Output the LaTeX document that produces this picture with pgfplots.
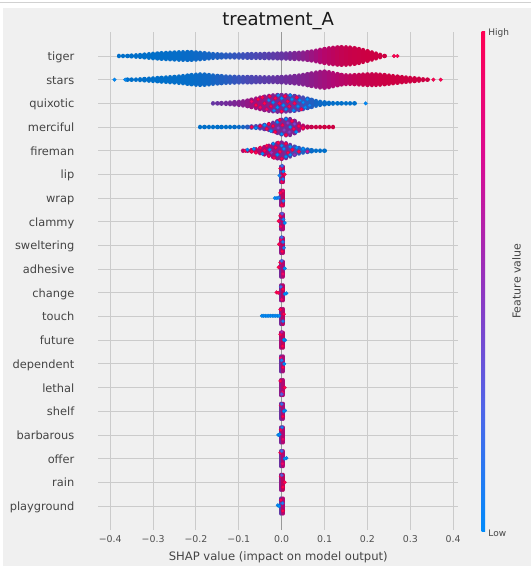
\documentclass[border=0pt]{standalone}
\usepackage{pgfplots}
\pgfplotsset{compat=1.18}
\usepackage{pgfplotstable}
\usepackage{fontspec}
\setmainfont{DejaVu Sans}
\definecolor{bgc}{HTML}{F0F0F0}
\definecolor{gridc}{HTML}{CBCBCB}
\definecolor{zeroc}{HTML}{999999}
\definecolor{labc}{HTML}{444444}
\definecolor{tickc}{HTML}{505050}
\pgfplotsset{colormap={shap}{rgb255(0cm)=(0,139,251) rgb255(1cm)=(80,100,232) rgb255(2cm)=(148,50,190) rgb255(3cm)=(220,10,145) rgb255(4cm)=(255,0,82)}}

\pgfplotstableread{
x h c
-0.38 1.6 0
-0.37 2.0 0
-0.36 2.3 0
-0.35 2.6 0
-0.34 2.9 0
-0.33 3.2 0
-0.32 3.6 0
-0.31 4.0 0
-0.30 4.4 0
-0.29 4.7 0.01
-0.28 5.0 0.01
-0.27 5.3 0.01
-0.26 5.5 0.02
-0.25 5.7 0.02
-0.24 5.9 0.02
-0.23 6.0 0.03
-0.22 6.1 0.03
-0.21 6.0 0.04
-0.20 5.8 0.05
-0.19 5.4 0.06
-0.18 5.0 0.07
-0.17 4.6 0.08
-0.16 4.2 0.10
-0.15 3.9 0.12
-0.14 3.7 0.14
-0.13 3.6 0.16
-0.12 3.6 0.18
-0.11 3.7 0.20
-0.10 3.8 0.22
-0.09 3.9 0.24
-0.08 4.0 0.26
-0.07 4.1 0.28
-0.06 4.2 0.30
-0.05 4.2 0.32
-0.04 4.3 0.34
-0.03 4.4 0.36
-0.02 4.5 0.38
-0.01 4.6 0.40
0.00 4.7 0.42
0.01 4.8 0.45
0.02 5.0 0.48
0.03 5.2 0.52
0.04 5.4 0.55
0.05 5.7 0.58
0.06 6.1 0.62
0.07 6.7 0.66
0.08 7.5 0.70
0.09 8.4 0.75
0.10 9.2 0.80
0.11 9.9 0.83
0.12 10.4 0.86
0.13 10.8 0.89
0.14 11.0 0.92
0.15 10.9 0.94
0.16 10.6 0.96
0.17 10.0 0.97
0.18 9.2 0.98
0.19 8.2 0.99
0.20 7.0 1
0.21 5.8 1
0.22 4.6 1
0.23 3.4 1
0.24 2.2 1
}\tigerdata

\pgfplotstableread{
x h c
-0.36 1.6 0
-0.35 2.0 0
-0.34 2.3 0
-0.33 2.6 0
-0.32 2.9 0
-0.31 3.2 0
-0.30 3.5 0
-0.29 3.8 0
-0.28 4.1 0
-0.27 4.4 0
-0.26 4.7 0.01
-0.25 5.0 0.01
-0.24 5.4 0.01
-0.23 5.8 0.02
-0.22 6.3 0.02
-0.21 6.8 0.02
-0.20 7.2 0.03
-0.19 7.5 0.04
-0.18 7.3 0.05
-0.17 6.9 0.06
-0.16 6.4 0.08
-0.15 6.0 0.10
-0.14 5.7 0.12
-0.13 5.4 0.14
-0.12 5.2 0.17
-0.11 5.1 0.20
-0.10 5.0 0.23
-0.09 4.9 0.26
-0.08 4.9 0.29
-0.07 4.9 0.31
-0.06 4.8 0.33
-0.05 4.7 0.35
-0.04 4.6 0.37
-0.03 4.6 0.39
-0.02 4.6 0.41
-0.01 4.7 0.43
0.00 4.9 0.45
0.01 5.2 0.47
0.02 5.5 0.49
0.03 5.9 0.51
0.04 6.4 0.53
0.05 7.0 0.55
0.06 7.7 0.57
0.07 8.5 0.60
0.08 9.3 0.63
0.09 10.0 0.66
0.10 10.3 0.69
0.11 9.7 0.72
0.12 8.8 0.75
0.13 7.8 0.78
0.14 7.0 0.81
0.15 6.6 0.84
0.16 6.5 0.87
0.17 6.7 0.90
0.18 7.0 0.92
0.19 7.3 0.94
0.20 7.5 0.95
0.21 7.6 0.96
0.22 7.5 0.97
0.23 7.2 0.98
0.24 6.8 0.99
0.25 6.3 1
0.26 5.8 1
0.27 5.3 1
0.28 4.8 1
0.29 4.4 1
0.30 4.0 1
0.31 3.6 1
0.32 3.2 1
0.33 2.6 1
0.34 2.0 1
}\starsdata

\pgfplotstableread{
x h c
-0.16 1.8 0.42
-0.15 2.2 0.44
-0.14 2.5 0.46
-0.13 2.8 0.48
-0.12 3.1 0.50
-0.11 3.4 0.52
-0.10 3.8 0.55
-0.09 4.3 0.58
-0.08 5.0 0.62
-0.07 5.9 0.66
-0.06 7.0 0.68
-0.05 8.0 0.66
-0.04 8.9 0.62
-0.03 9.7 0.58
-0.02 10.2 0.55
-0.01 10.5 0.52
0.00 10.5 0.50
0.01 10.4 0.47
0.02 10.1 0.44
0.03 9.6 0.40
0.04 8.9 0.35
0.05 8.0 0.28
0.06 6.9 0.20
0.07 5.8 0.13
0.08 4.6 0.08
0.09 3.8 0.05
0.10 3.2 0.03
0.11 2.8 0.02
0.12 2.5 0.01
0.13 2.3 0
0.14 2.1 0
0.15 1.9 0
0.16 1.7 0
0.17 1.6 0
}\quixoticdata

\pgfplotstableread{
x h c
-0.19 1.6 0
-0.18 1.6 0
-0.17 1.7 0
-0.16 1.7 0
-0.15 1.8 0
-0.14 1.8 0
-0.13 1.9 0
-0.12 1.9 0
-0.11 2.0 0.02
-0.10 2.1 0.04
-0.09 2.3 0.08
-0.08 2.5 0.15
-0.07 2.8 0.25
-0.06 3.1 0.32
-0.05 3.6 0.38
-0.04 4.3 0.42
-0.03 5.2 0.46
-0.02 6.4 0.48
-0.01 8.0 0.50
0.00 9.5 0.50
0.01 10.5 0.50
0.02 10.2 0.52
0.03 8.4 0.56
0.04 5.8 0.66
0.05 3.6 0.80
0.06 2.6 0.90
0.07 2.2 0.95
0.08 2.0 0.98
0.09 1.9 1
0.10 1.8 1
0.11 1.7 1
0.12 1.6 1
}\mercifuldata

\pgfplotstableread{
x h c
-0.09 1.6 0.80
-0.08 2.2 0.85
-0.07 2.8 0.85
-0.06 3.6 0.82
-0.05 4.7 0.78
-0.04 5.9 0.74
-0.03 7.2 0.70
-0.02 8.6 0.66
-0.01 9.8 0.60
0.00 10.4 0.55
0.01 9.6 0.48
0.02 8.0 0.40
0.03 6.3 0.30
0.04 5.0 0.20
0.05 4.1 0.12
0.06 3.4 0.07
0.07 2.8 0.03
0.08 2.3 0.01
0.09 1.9 0
0.10 1.6 0
}\firemandata

\pgfplotstableread{
x y h c
-0.002 14 9.8 0.35
0.003 14 9.8 0.80
-0.002 13 9.5 0.55
0.003 13 9.5 0.85
-0.002 12 9.6 0.50
0.003 12 9.6 0.75
-0.002 11 9.6 0.60
0.003 11 9.6 0.80
-0.002 10 9.6 0.50
0.003 10 9.6 0.75
-0.002 9 9.6 0.55
0.003 9 9.6 0.80
-0.002 8 9.6 0.50
0.003 8 9.6 0.80
-0.002 7 9.6 0.70
0.003 7 9.6 0.85
-0.002 6 9.6 0.45
0.003 6 9.6 0.70
-0.002 5 9.6 0.60
0.003 5 9.6 0.75
-0.002 4 9.6 0.45
0.003 4 9.6 0.70
-0.002 3 9.6 0.50
0.003 3 9.6 0.75
-0.002 2 9.6 0.45
0.003 2 9.6 0.75
-0.002 1 9.6 0.60
0.003 1 9.6 0.85
-0.002 0 9.6 0.40
0.003 0 9.6 0.75
}\smalldata

\pgfplotstableread{
x y c
0.262 19 1
0.270 19 1
-0.390 18 0
-0.365 18 0
0.354 18 1
0.371 18 1
0.196 17 0
-0.070 17.08 0.9
-0.060 16.92 1
-0.055 17.17 1
-0.050 16.83 0.95
-0.045 17.25 1
-0.040 17.00 1
-0.035 16.75 0.9
-0.030 17.13 0.05
-0.028 17.30 1
-0.025 16.87 1
-0.020 17.04 0
-0.018 16.70 0.05
-0.015 17.21 1
-0.010 16.83 0
-0.008 17.34 0.05
-0.005 17.00 1
0.000 16.66 1
0.000 17.21 0
0.004 16.92 0
0.008 17.30 1
0.010 16.75 0
0.014 17.08 1
0.018 16.87 1
0.020 17.34 0
0.024 17.17 0
0.028 16.70 0
0.030 17.00 1
0.035 17.25 1
0.038 16.87 0
0.042 17.13 0
0.046 16.75 1
0.050 17.04 0
0.055 16.83 0
0.060 17.17 0
0.065 16.92 0.05
-0.070 16.00 1
-0.060 15.96 0
-0.050 16.04 1
-0.040 16.08 0
-0.035 15.92 1
-0.030 16.13 1
-0.025 15.83 0
-0.020 16.04 1
-0.015 15.79 1
-0.010 16.21 0
-0.008 15.96 0.45
-0.005 16.30 1
0.000 15.70 0
0.002 16.08 1
0.006 15.87 0.45
0.010 16.34 0
0.010 15.66 1
0.014 16.17 0.45
0.018 15.79 0.45
0.020 16.00 0
0.024 16.25 1
0.028 15.92 1
0.030 16.13 0.4
0.034 15.79 0
0.040 16.04 1
0.050 15.96 1
-0.085 15.00 1
-0.080 15.04 0
-0.070 14.96 1
-0.065 15.08 0.05
-0.060 14.92 1
-0.050 15.13 1
-0.045 14.87 0
-0.040 15.00 1
-0.035 15.21 1
-0.030 14.79 1
-0.028 15.04 0
-0.024 14.92 0.5
-0.020 15.30 0
-0.018 14.70 1
-0.014 15.13 1
-0.010 14.83 0
-0.008 15.34 1
-0.004 14.96 1
0.000 15.21 0
0.000 14.66 1
0.005 15.08 0
0.010 14.75 0
0.010 15.30 1
0.015 14.92 1
0.020 15.17 0
0.020 14.83 0
0.025 15.04 1
0.030 14.83 0.5
0.035 15.13 0
0.040 14.96 1
0.050 15.08 0
0.060 14.96 0.7
-0.003 14.25 1
0.004 14.12 0
-0.002 13.95 0.9
0.003 13.80 0.1
0.000 13.68 0.95
0.001 14.36 0.2
0.007 14.00 1
-0.005 13.95 0.05
-0.003 13.22 1
0.003 13.30 0.9
0.004 12.88 0.1
0.000 12.70 1
-0.016 13.00 0
-0.011 13.00 0
-0.007 13.02 0.1
-0.003 12.25 1
0.004 12.10 0.1
-0.002 11.80 0.95
0.001 12.34 0.3
-0.007 12.03 1
0.007 11.95 0
-0.002 11.25 0.9
0.003 11.15 0.1
0.001 10.75 1
0.000 11.35 0.2
-0.006 11.05 1
0.005 10.90 0.1
-0.003 10.28 1
0.003 9.80 0.9
0.000 10.35 0.2
0.007 10.03 0
-0.007 10.08 1
-0.002 9.25 0.2
0.003 9.15 1
0.000 8.72 0.9
-0.012 9.02 1
-0.008 9.00 1
0.011 8.98 0
0.007 8.95 0
-0.003 8.30 1
0.003 7.80 0.1
0.005 8.10 1
-0.046 8.03 0
-0.042 8.03 0
-0.038 8.03 0
-0.034 8.03 0
-0.030 8.03 0
-0.026 8.03 0
-0.022 8.03 0
-0.018 8.03 0
-0.014 8.03 0
-0.010 8.03 0
-0.006 8.03 0
-0.003 7.25 1
0.002 6.75 1
0.008 7.00 0
0.005 7.02 0
0.000 7.35 0.6
-0.002 6.25 0.9
0.003 5.85 1
0.000 6.15 0.1
0.006 6.00 0
-0.003 5.28 1
0.002 4.80 0.9
0.007 5.00 1
0.000 4.72 0.3
-0.002 4.25 0.95
0.003 3.78 1
0.008 4.03 0
0.005 4.00 0
0.000 4.30 0.2
-0.002 3.22 1
0.003 2.82 0.9
-0.008 3.00 0
-0.005 3.02 0
0.001 3.32 0.1
-0.003 2.25 1
0.002 1.78 0.9
0.011 2.02 0
0.007 2.00 0
0.000 2.32 0.2
-0.002 1.25 1
0.003 0.80 1
0.007 1.00 1
0.000 1.30 0.3
-0.002 0.25 0.95
0.003 -0.20 1
-0.009 0.03 0
-0.006 0.00 0
0.002 0.12 0.1
}\dotsdata

\pgfplotsset{
  swarm/.style={scatter, only marks, mark=|, point meta=\thisrow{c},
    visualization depends on={max(\thisrow{h}-2.2,0.1) \as \hh},
    scatter/@pre marker code/.append style={/tikz/mark size=\hh},
    mark options={line width=4.4pt, line cap=round}},
  swarmdots/.style={scatter, only marks, mark=*, mark size=1.9pt,
    point meta=\thisrow{c}, mark options={line width=0.2pt}},
}

\begin{document}
\begin{tikzpicture}[x=1pt,y=1pt]
\path[use as bounding box] (0,0) rectangle (531,567);
\fill[white] (0,0) rectangle (531,567);
\fill[bgc] (3.4,1.4) rectangle (531,558.5);
\draw[color=black!18, line width=0.8pt] (0,564.7) -- (531,564.7);
\begin{axis}[
  at={(98.2pt,37.3pt)}, anchor=south west,
  scale only axis, width=360.1pt, height=497.4pt,
  xmin=-0.428, xmax=0.412, ymin=-1, ymax=20,
  axis line style={draw=none}, tick style={draw=none}, major tick length=0pt,
  xmajorgrids, ymajorgrids, grid style={color=gridc, line width=0.9pt},
  xtick={-0.4,-0.3,-0.2,-0.1,0,0.1,0.2,0.3,0.4},
  xticklabels={−0.4,−0.3,−0.2,−0.1,0.0,0.1,0.2,0.3,0.4},
  ytick={0,1,2,3,4,5,6,7,8,9,10,11,12,13,14,15,16,17,18,19},
  yticklabels={playground,rain,offer,barbarous,shelf,lethal,dependent,future,touch,change,adhesive,sweltering,clammy,wrap,lip,fireman,merciful,quixotic,stars,tiger},
  xticklabel style={font=\fontsize{9.4}{10}\selectfont, color=tickc, anchor=north, inner sep=0pt, text height=6.9pt, text depth=0pt},
  xticklabel shift=6.2pt,
  yticklabel style={font=\fontsize{11.4}{12}\selectfont, color=labc, anchor=east, inner sep=0pt, text height=8.3pt, text depth=2.4pt, yshift=-1.5pt},
  yticklabel shift=23.7pt,
  title={treatment\_A},
  title style={font=\fontsize{18}{20}\selectfont, color=black!90, at={(axis description cs:0.5,1)}, anchor=center, yshift=5.3pt},
  xlabel={SHAP value (impact on model output)},
  xlabel style={font=\fontsize{11.6}{12}\selectfont, color=labc, at={(axis description cs:0.5,0)}, anchor=center, yshift=-27.5pt},
  colormap name=shap, point meta min=0, point meta max=1,
  colorbar,
  colorbar style={
    at={(parent axis.north east)}, anchor=north west,
    xshift=14.7pt, yshift=1.3pt,
    scale only axis, width=3.7pt, height=500.4pt,
    xmajorgrids=false, ymajorgrids=false,
    axis line style={draw=none}, tick style={draw=none}, major tick length=0pt,
    ytick={0,1}, yticklabels={Low,High},
    yticklabel style={font=\fontsize{9}{10}\selectfont, color=labc, anchor=west, inner sep=0pt, yshift=-1.8pt},
    yticklabel shift=3pt,
    ylabel={Feature value},
    ylabel style={font=\fontsize{11}{12}\selectfont, color=labc, at={(axis description cs:9.46,0.5)}, anchor=center},
  },
]
\addplot[zeroc, line width=1.3pt, forget plot] coordinates {(0,-1) (0,20)};
\addplot[swarm] table[x=x, y expr=19] \tigerdata;
\addplot[swarm] table[x=x, y expr=18] \starsdata;
\addplot[swarm] table[x=x, y expr=17] \quixoticdata;
\addplot[swarm] table[x=x, y expr=16] \mercifuldata;
\addplot[swarm] table[x=x, y expr=15] \firemandata;
\addplot[swarm] table[x=x, y=y] \smalldata;
\addplot[swarmdots] table[x=x, y=y] \dotsdata;
\end{axis}
\end{tikzpicture}
\end{document}
